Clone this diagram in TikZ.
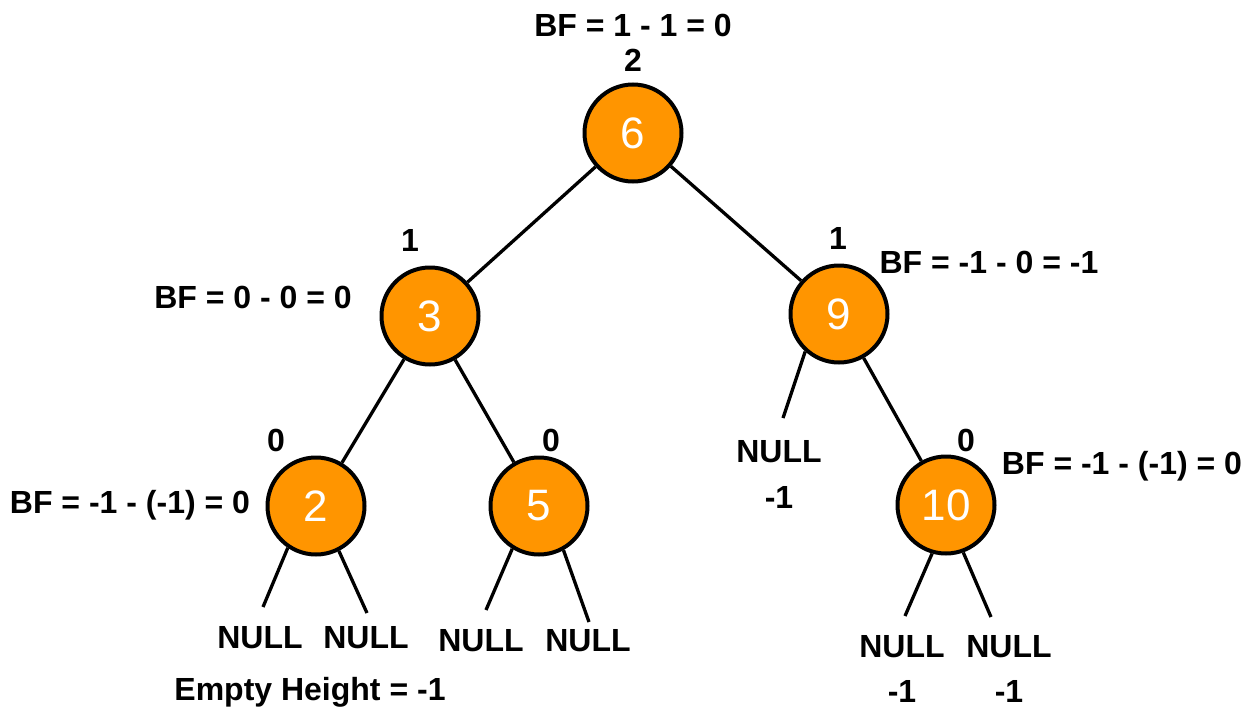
\documentclass[tikz,border=0pt]{standalone}
\usepackage{fontspec}
\setmainfont{Liberation Sans}
\definecolor{nodeorange}{RGB}{255,149,0}
\tikzset{
  treenode/.style={circle, draw=black, line width=4pt, fill=nodeorange, minimum size=97pt, inner sep=0pt,
    text=white, font=\fontsize{44}{44}\selectfont},
  lbl/.style={font=\bfseries\fontsize{32}{32}\selectfont, inner sep=0pt, text=black},
  edge/.style={line width=3.3pt, draw=black},
}
\begin{document}
\begin{tikzpicture}[x=1pt,y=-1pt]
\useasboundingbox (0,0) rectangle (1251,715);
% nodes
\node[treenode] (n6) at (633,133) {6};
\node[treenode] (n3) at (430,316) {3};
\node[treenode] (n9) at (839,314) {9};
\node[treenode] (n2) at (316,506) {2};
\node[treenode] (n5) at (539,506) {5};
\node[treenode] (n10) at (946,505) {10};
% free ends
\coordinate (e9l) at (783,418);
\coordinate (e2l) at (263,607);
\coordinate (e2r) at (367,613);
\coordinate (e5l) at (486,610);
\coordinate (e5r) at (589,622);
\coordinate (e10l) at (905,616);
\coordinate (e10r) at (991,617);
% edges
\draw[edge] (n6) -- (n3);
\draw[edge] (n6) -- (n9);
\draw[edge] (n3) -- (n2);
\draw[edge] (n3) -- (n5);
\draw[edge] (n9) -- (n10);
\draw[edge] (n9.228) -- (e9l);
\draw[edge] (n2.236) -- (e2l);
\draw[edge] (n2.297) -- (e2r);
\draw[edge] (n5.238) -- (e5l);
\draw[edge] (n5.299) -- (e5r);
\draw[edge] (n10.254) -- (e10l);
\draw[edge] (n10.290) -- (e10r);
% labels
\node[lbl] (bf6) at (633,25) {BF = 1 - 1 = 0};
\node[lbl] (h6) at (633,60) {2};
\node[lbl] (h3) at (410,240) {1};
\node[lbl] (bf3) at (253,297) {BF = 0 - 0 = 0};
\node[lbl] (h9) at (838,238) {1};
\node[lbl] (bf9) at (989,262) {BF = -1 - 0 = -1};
\node[lbl] (h2) at (276,440) {0};
\node[lbl] (bf2) at (130,505) {BF = -1 - (-1) = 0};
\node[lbl] (h5) at (551,440) {0};
\node[lbl] (null9) at (779,452) {NULL};
\node[lbl] (m9) at (779,497) {-1};
\node[lbl] (h10) at (966,440) {0};
\node[lbl] (bf10) at (1122,466) {BF = -1 - (-1) = 0};
\node[lbl] (nl1) at (260,638) {NULL};
\node[lbl] (nl2) at (366,638) {NULL};
\node[lbl] (nl3) at (481,641) {NULL};
\node[lbl] (nl4) at (588,641) {NULL};
\node[lbl] (nl5) at (902,647) {NULL};
\node[lbl] (nl6) at (1009,647) {NULL};
\node[lbl] (m5) at (902,691) {-1};
\node[lbl] (m6) at (1009,691) {-1};
\node[lbl] (empty) at (310,692) {Empty Height = -1};
\end{tikzpicture}
\end{document}
